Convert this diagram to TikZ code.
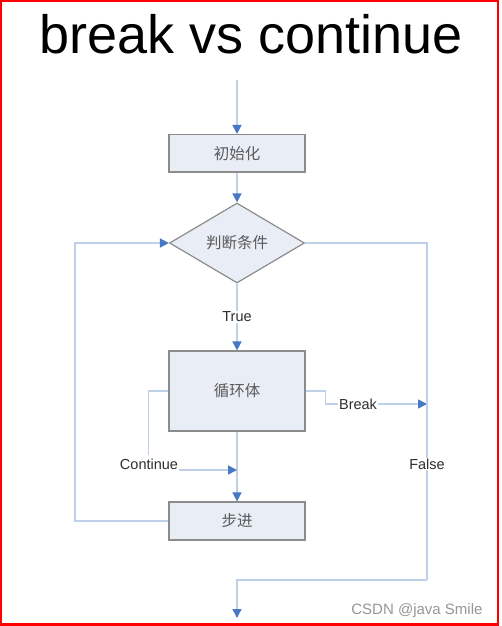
\documentclass[tikz,border=0pt]{standalone}
\usepackage{fontspec}
\setmainfont{Liberation Sans}
\newfontfamily\cjk{Noto Sans CJK SC}
\usetikzlibrary{shapes.geometric,arrows.meta}
\definecolor{linecol}{RGB}{190,209,233}
\definecolor{tipcol}{RGB}{70,120,196}
\definecolor{boxfill}{RGB}{232,237,246}
\definecolor{boxline}{RGB}{140,140,140}
\definecolor{cntext}{RGB}{90,90,90}
\definecolor{lbltext}{RGB}{45,45,45}
\tikzset{
  procbox/.style={draw=boxline, line width=1.2pt, fill=boxfill, minimum width=136pt, inner sep=0pt, font=\cjk\fontsize{15.5}{15.5}\selectfont, text=cntext},
  decbox/.style={shape=diamond, draw=boxline, line width=1.2pt, fill=boxfill, minimum width=135pt, minimum height=80pt, aspect=1.69, inner sep=0pt, font=\cjk\fontsize{15.5}{15.5}\selectfont, text=cntext},
  conn/.style={draw=linecol, line width=1.6pt, -{Triangle[length=9pt,width=9pt,color=tipcol]}},
  plainconn/.style={draw=linecol, line width=1.6pt},
  lbl/.style={fill=white, inner sep=1pt, font=\fontsize{14.5}{14.5}\selectfont, text=lbltext}
}
\begin{document}
\begin{tikzpicture}[x=1pt,y=-1pt]
\useasboundingbox (0,0) rectangle (501,626);
\fill[white] (0,0) rectangle (501,626);
\draw[red, line width=2.4pt] (1.2,1.2) rectangle (497.8,624.6);
\node[anchor=base, font=\fontsize{54}{54}\selectfont] (title) at (251.5,54) {break vs continue};
\coordinate (start) at (237,80);
\node[procbox, minimum height=37.5pt] (init) at (237,153.3) {初始化};
\node[decbox] (cond) at (237,243) {判断条件};
\node[procbox, minimum height=80pt] (body) at (237,391) {循环体};
\node[procbox, minimum height=38pt] (step) at (237,521) {步进};
\coordinate (cend) at (237,470);
\coordinate (bend) at (427,404);
\coordinate (fc) at (427,580);
\coordinate (fend) at (237,618);
\coordinate (lc) at (75,243);
\draw[conn] (start) -- (init);
\draw[conn] (init) -- (cond);
\draw[conn] (cond) -- node[lbl] {True} (body);
\draw[conn] (body) -- (step);
\draw[conn] (body.west) -- ++(-20,0) |- (cend);
\node[lbl, inner xsep=1pt, inner ysep=3.5pt] (contlbl) at (149,464) {Continue};
\draw[conn] (body.east) -- ++(20,0) |- node[lbl, pos=0.66] {Break} (bend);
\draw[plainconn] (cond.east) -| node[lbl, pos=0.828] {False} (fc);
\draw[conn] (fc) -| (fend);
\draw[conn] (step.west) -| (lc) -- (cond.west);
\node[anchor=base east, font=\fontsize{15}{15}\selectfont, text={rgb,255:red,150;green,150;blue,150}] (wm) at (486,614) {CSDN @java Smile};
\end{tikzpicture}
\end{document}
